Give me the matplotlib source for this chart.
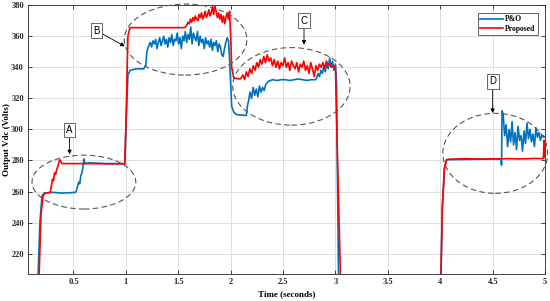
import numpy as np
import matplotlib.pyplot as plt
from matplotlib.patches import Ellipse

plt.rcParams['font.family'] = ['Liberation Serif', 'DejaVu Serif']

# ---- P&O (blue) : breakpoints and hand-read noisy stretches ----
po_start = [(0.16, 200), (0.18, 240), (0.20, 257), (0.22, 259), (0.30, 259.5), (0.40, 259),
            (0.52, 259.5), (0.53, 261), (0.55, 266), (0.56, 265), (0.57, 270), (0.58, 272),
            (0.59, 275), (0.60, 281), (0.61, 278), (0.65, 278.5), (0.80, 278), (0.99, 278),
            (1.00, 300), (1.02, 335), (1.04, 338), (1.10, 339), (1.17, 339), (1.19, 341),
            (1.20, 350)]
po_noise1 = [354, 356, 353, 357, 355, 358, 352, 356, 359, 354, 357, 360, 355, 358, 353, 359,
             356, 361, 354, 358, 357, 362, 355, 359, 352, 360, 357, 363, 356, 361, 358, 366,
             355, 362, 359, 357, 363, 354, 360, 356, 358, 352, 359, 355, 357, 353, 358, 351,
             356, 354, 357, 350, 355, 353, 348, 347, 352, 356, 359, 357]
po_mid = [(1.99, 345), (2.00, 330), (2.01, 315), (2.03, 311), (2.06, 309.5), (2.15, 309),
          (2.16, 315)]
po_noise2 = [318, 324, 320, 327, 322, 326, 321, 328, 324, 327, 325, 329, 330]
po_flat = [331, 332, 331.5, 332, 332, 331.5, 332, 332.5, 332, 331.5, 332, 332]
po_noise3 = [333, 336, 334, 338, 336, 341, 337, 343, 339, 346, 340, 344, 338, 342]
po_drop = [(3.01, 330), (3.03, 200)]
po_rise = [(4.005, 200), (4.02, 250), (4.04, 275), (4.06, 280.5), (4.58, 281),
           (4.585, 277), (4.59, 312)]
po_noise4 = [310, 296, 303, 289, 300, 292, 305, 290, 298, 287, 302, 293, 296, 286, 299, 291,
             304, 294, 300, 292, 297, 289, 301, 295, 298, 293, 296]
po_end = [(4.98, 296), (5.0, 295)]

# ---- Proposed (red) ----
pr_start = [(0.17, 200), (0.19, 245), (0.21, 257), (0.23, 259), (0.28, 259.5), (0.29, 264),
            (0.30, 268), (0.31, 267), (0.32, 272), (0.33, 271), (0.34, 274), (0.35, 276),
            (0.37, 280.5), (0.39, 278), (0.60, 278), (0.99, 277.8), (1.00, 300), (1.02, 360),
            (1.04, 365.5), (1.20, 365.5), (1.56, 365.5)]
pr_noise1 = [366, 367, 369, 368, 371, 369, 372, 370, 373, 371, 370, 374, 372, 375, 371, 373,
             376, 372, 374, 377, 373, 375, 379, 374, 380, 376, 372, 375, 371, 374, 369, 373,
             368, 372, 375, 371, 376]
pr_mid = [(2.00, 360), (2.01, 340), (2.03, 333), (2.09, 332.5)]
pr_noise2 = [333, 335, 332, 337, 334, 339, 336, 341, 338, 343, 340, 345, 342, 347, 343, 348,
             344, 346, 341, 345, 340, 344, 339, 343, 341, 346, 340, 343, 338, 344, 341, 339,
             343, 337, 342, 340, 344, 338, 341, 336, 343, 339, 334, 341, 338, 342, 340, 343,
             339, 344, 341, 342, 340, 341]
pr_drop = [(3.00, 340), (3.02, 280), (3.05, 200)]
pr_rise = [(4.005, 200), (4.02, 250), (4.04, 275), (4.06, 280.5)]
pr_flat = [280.8, 281, 281.2, 281, 280.9, 281.1, 281, 281.2, 281, 281.1, 281.3, 281.2]
pr_end = [(4.985, 283), (4.99, 293), (4.995, 290), (5.0, 282)]


def pts(pairs):
    return [p[0] for p in pairs], [p[1] for p in pairs]


def stretch(vals, t0, t1):
    return list(np.linspace(t0, t1, len(vals))), list(vals)


def build(parts):
    t, v = [], []
    for pt, pv in parts:
        t += pt
        v += pv
    return np.array(t), np.array(v)


t_po, v_po = build([pts(po_start), stretch(po_noise1, 1.22, 1.98), pts(po_mid),
                    stretch(po_noise2, 2.17, 2.35), stretch(po_flat, 2.36, 2.81),
                    stretch(po_noise3, 2.82, 3.00), pts(po_drop),
                    ([3.04, 4.0], [np.nan, np.nan]), pts(po_rise),
                    stretch(po_noise4, 4.60, 4.97), pts(po_end)])
t_pr, v_pr = build([pts(pr_start), stretch(pr_noise1, 1.57, 1.99), pts(pr_mid),
                    stretch(pr_noise2, 2.10, 2.98), pts(pr_drop),
                    ([3.06, 4.0], [np.nan, np.nan]), pts(pr_rise),
                    stretch(pr_flat, 4.08, 4.98), pts(pr_end)])

# annotation ellipses: centre x, centre y, width, height
ell_cx = [0.60, 1.57, 2.58, 4.525]
ell_cy = [266.1, 357.8, 327.7, 284.6]
ell_w = [0.99, 1.17, 1.12, 1.00]
ell_h = [34.7, 45.7, 49.9, 51.5]
labels = ['A', 'B', 'C', 'D']
label_xy = [(0.463, 299.6), (0.72, 363.6), (2.70, 370.0), (4.50, 331.0)]
arrow_xy = [(0.463, 284.0), (0.99, 353.5), (2.70, 354.5), (4.50, 310.5)]

fig = plt.figure(figsize=(5.5, 3.01), dpi=100)
ax = fig.add_axes([0.051, 0.090, 0.940, 0.893])

ax.plot(t_po, v_po, color='#0072BD', lw=1.2, label='P&O', zorder=3)
ax.plot(t_pr, v_pr, color='#FF0000', lw=1.2, label='Proposed', zorder=4)

for cx, cy, w, h in zip(ell_cx, ell_cy, ell_w, ell_h):
    ax.add_patch(Ellipse((cx, cy), w, h, fill=False, ls=(0, (5, 3)), lw=0.8,
                         edgecolor='#555555', zorder=5, clip_on=False))

for lab, (lx, ly), (ax_, ay) in zip(labels, label_xy, arrow_xy):
    ax.annotate(lab, xy=(ax_, ay), xytext=(lx, ly), ha='center', va='center',
                fontsize=7, family=['Liberation Sans', 'DejaVu Sans'],
                bbox=dict(boxstyle='square,pad=0.25', fc='white', ec='#666666', lw=0.7),
                arrowprops=dict(arrowstyle='-|>', color='black', lw=0.6,
                                mutation_scale=6, shrinkA=0, shrinkB=0),
                zorder=6)

ax.set_xlim(0.067, 5)
ax.set_ylim(207, 380)
ax.set_xticks(np.arange(0.5, 5.01, 0.5))
ax.set_xticklabels(['0.5', '1', '1.5', '2', '2.5', '3', '3.5', '4', '4.5', '5'])
ax.set_yticks(np.arange(220, 381, 20))
ax.grid(True, color='#dedede', lw=0.7)
ax.tick_params(direction='in', length=3, width=0.6, labelsize=6, top=True, right=True,
               pad=3, colors='#262626')
for lbl in ax.get_xticklabels() + ax.get_yticklabels():
    lbl.set_fontweight('bold')
for sp in ax.spines.values():
    sp.set_color('#262626')
    sp.set_linewidth(0.6)

ax.set_xlabel('Time (seconds)', fontsize=6.5, fontweight='bold', labelpad=3)
ax.set_ylabel('Output Vdc (Volts)', fontsize=6.5, fontweight='bold', labelpad=0)

leg = ax.legend(loc='upper right', prop={'weight': 'bold', 'size': 5.5},
                handlelength=3.0, handletextpad=0.3, borderpad=0.3, labelspacing=0.2,
                fancybox=False, framealpha=1, edgecolor='#262626',
                bbox_to_anchor=(0.993, 0.985))
leg.get_frame().set_linewidth(0.5)

fig.savefig('out.png', dpi=100)
